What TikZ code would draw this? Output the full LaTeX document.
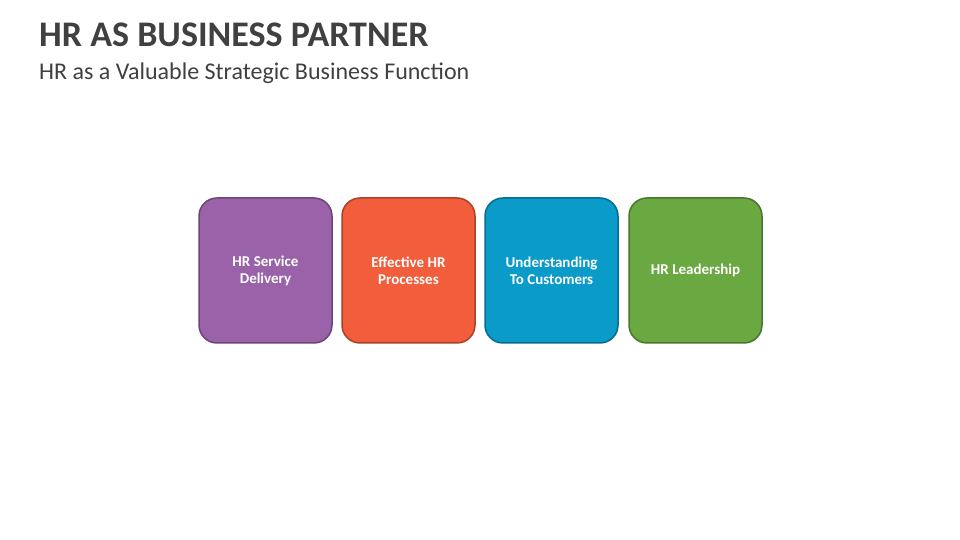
\documentclass[tikz,border=0pt]{standalone}
\usepackage{fontspec}
\setmainfont{Carlito}
\definecolor{cpur}{HTML}{9A62A8}
\definecolor{cora}{HTML}{F25E3C}
\definecolor{cblu}{HTML}{0A9BC9}
\definecolor{cgrn}{HTML}{6AA842}
\definecolor{ctxt}{HTML}{404040}
\begin{document}
\begin{tikzpicture}[x=1pt,y=1pt,
  card/.style={draw=#1!70!black,line width=1.5pt,fill=#1,rounded corners=18pt,minimum width=133pt,minimum height=145pt,text=white,font=\bfseries\fontsize{15}{17}\selectfont,align=center,inner sep=0pt}]
\useasboundingbox (0,0) rectangle (960,540);
\fill[white] (0,0) rectangle (960,540);
\node[anchor=west,text=ctxt,font=\bfseries\fontsize{36}{40}\selectfont,inner sep=0pt] (title) at (39,505) {HR AS BUSINESS PARTNER};
\node[anchor=west,text=ctxt,font=\fontsize{24}{28}\selectfont,inner sep=0pt] (sub) at (39,467) {HR as a Valuable Strategic Business Function};
\node[card=cpur] (a) at (265.5,269.5) {HR Service\\Delivery};
\node[card=cora] (b) at (408.5,269.5) {Effective HR\\Processes};
\node[card=cblu] (c) at (551.5,269.5) {Understanding\\To Customers};
\node[card=cgrn] (d) at (695.5,269.5) {HR Leadership};
\end{tikzpicture}
\end{document}
